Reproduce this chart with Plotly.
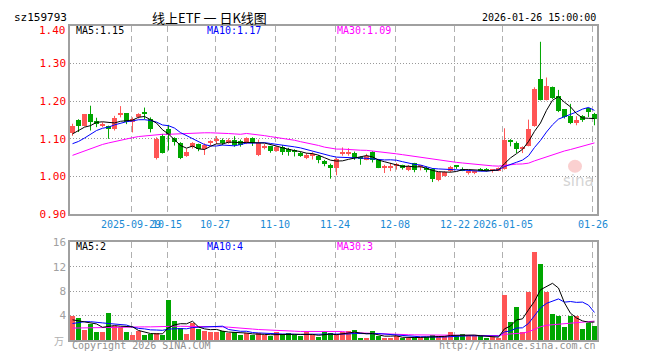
import plotly.graph_objects as go
import numpy as np

# ---------------- data ----------------
dates = [
    "2025-09-15", "2025-09-16", "2025-09-17", "2025-09-18", "2025-09-19", "2025-09-22", "2025-09-23",
    "2025-09-24", "2025-09-25", "2025-09-26", "2025-09-29", "2025-09-30",
    "2025-10-09", "2025-10-10", "2025-10-13", "2025-10-14", "2025-10-15", "2025-10-16", "2025-10-17",
    "2025-10-20", "2025-10-21", "2025-10-22", "2025-10-23", "2025-10-24", "2025-10-27", "2025-10-28",
    "2025-10-29", "2025-10-30", "2025-10-31",
    "2025-11-03", "2025-11-04", "2025-11-05", "2025-11-06", "2025-11-07", "2025-11-10", "2025-11-11",
    "2025-11-12", "2025-11-13", "2025-11-14", "2025-11-17", "2025-11-18", "2025-11-19", "2025-11-20",
    "2025-11-21", "2025-11-24", "2025-11-25", "2025-11-26", "2025-11-27", "2025-11-28",
    "2025-12-01", "2025-12-02", "2025-12-03", "2025-12-04", "2025-12-05", "2025-12-08", "2025-12-09",
    "2025-12-10", "2025-12-11", "2025-12-12", "2025-12-15", "2025-12-16", "2025-12-17", "2025-12-18",
    "2025-12-19", "2025-12-22", "2025-12-23", "2025-12-24", "2025-12-25", "2025-12-26", "2025-12-29",
    "2025-12-30", "2025-12-31",
    "2026-01-05", "2026-01-06", "2026-01-07", "2026-01-08", "2026-01-09", "2026-01-12", "2026-01-13",
    "2026-01-14", "2026-01-15", "2026-01-16", "2026-01-19", "2026-01-20", "2026-01-21", "2026-01-22",
    "2026-01-23", "2026-01-26",
]

open_ = [1.115, 1.151, 1.134, 1.167, 1.147, 1.133, 1.133, 1.126, 1.165, 1.168,
         1.144, 1.157, 1.168, 1.154, 1.048, 1.107, 1.126, 1.102, 1.090, 1.055,
         1.077, 1.086, 1.072, 1.089, 1.095, 1.098, 1.090, 1.096, 1.095, 1.088,
         1.103, 1.057, 1.077, 1.081, 1.068, 1.079, 1.073, 1.068, 1.063, 1.048,
         1.055, 1.055, 1.041, 1.031, 1.023, 1.060, 1.062, 1.062, 1.048, 1.044,
         1.065, 1.043, 1.024, 1.024, 1.027, 1.030, 1.018, 1.036, 1.026, 1.022,
         1.020, 0.990, 1.002, 1.014, 1.027, 1.020, 1.010, 1.010, 1.019, 1.018,
         1.015, 1.015, 1.020, 1.096, 1.090, 1.073, 1.081, 1.135, 1.259, 1.204,
         1.239, 1.215, 1.178, 1.160, 1.141, 1.160, 1.183, 1.165]
high = [1.140, 1.152, 1.166, 1.188, 1.156, 1.144, 1.135, 1.161, 1.187, 1.168,
        1.157, 1.168, 1.183, 1.157, 1.104, 1.113, 1.137, 1.104, 1.091, 1.074,
        1.091, 1.087, 1.088, 1.096, 1.107, 1.101, 1.101, 1.107, 1.098, 1.104,
        1.104, 1.098, 1.086, 1.081, 1.081, 1.083, 1.076, 1.072, 1.066, 1.062,
        1.064, 1.057, 1.044, 1.034, 1.049, 1.077, 1.075, 1.066, 1.053, 1.060,
        1.067, 1.046, 1.031, 1.036, 1.036, 1.031, 1.030, 1.036, 1.029, 1.026,
        1.022, 1.011, 1.014, 1.028, 1.030, 1.024, 1.014, 1.015, 1.022, 1.022,
        1.018, 1.024, 1.128, 1.099, 1.093, 1.080, 1.151, 1.237, 1.358, 1.263,
        1.239, 1.230, 1.178, 1.193, 1.160, 1.163, 1.183, 1.169]
low = [1.108, 1.118, 1.133, 1.122, 1.131, 1.131, 1.100, 1.122, 1.157, 1.139,
       1.117, 1.154, 1.152, 1.117, 1.045, 1.061, 1.069, 1.082, 1.046, 1.052,
       1.074, 1.067, 1.057, 1.082, 1.086, 1.083, 1.087, 1.079, 1.079, 1.086,
       1.081, 1.054, 1.072, 1.063, 1.066, 1.057, 1.055, 1.053, 1.052, 1.046,
       1.045, 1.035, 1.027, 0.994, 1.003, 1.055, 1.055, 1.044, 1.031, 1.043,
       1.037, 1.022, 1.009, 1.014, 1.018, 1.018, 1.014, 1.011, 1.016, 1.011,
       0.985, 0.987, 1.000, 1.011, 1.020, 1.014, 1.005, 1.006, 1.014, 1.013,
       1.010, 1.014, 1.018, 1.080, 1.062, 1.062, 1.080, 1.132, 1.202, 1.202,
       1.206, 1.171, 1.154, 1.139, 1.136, 1.145, 1.158, 1.136]
close = [1.133, 1.133, 1.165, 1.146, 1.142, 1.140, 1.128, 1.155, 1.168, 1.145,
         1.152, 1.166, 1.166, 1.125, 1.100, 1.063, 1.109, 1.091, 1.048, 1.065,
         1.090, 1.072, 1.083, 1.090, 1.098, 1.088, 1.096, 1.083, 1.083, 1.103,
         1.089, 1.088, 1.080, 1.068, 1.079, 1.065, 1.065, 1.066, 1.055, 1.058,
         1.059, 1.044, 1.033, 1.022, 1.046, 1.062, 1.064, 1.049, 1.047, 1.055,
         1.044, 1.023, 1.026, 1.026, 1.034, 1.023, 1.027, 1.016, 1.028, 1.016,
         0.992, 1.011, 1.012, 1.025, 1.025, 1.017, 1.012, 1.012, 1.016, 1.017,
         1.017, 1.022, 1.097, 1.093, 1.073, 1.075, 1.125, 1.233, 1.204, 1.241,
         1.209, 1.174, 1.158, 1.143, 1.151, 1.151, 1.170, 1.154]
volume = [3.95, 3.6, 1.65, 2.6, 1.35, 1.2, 4.4, 2.25, 2.1, 1.35,
          0.7, 1.4, 0.85, 1.0, 1.1, 0.7, 6.45, 3.1, 2.0, 1.0,
          2.8, 1.8, 1.5, 1.35, 1.2, 1.4, 1.05, 1.3, 0.85, 1.1,
          0.7, 1.1, 0.85, 0.55, 1.3, 1.0, 1.1, 0.7, 0.55, 1.5,
          0.7, 0.4, 1.2, 1.1, 0.95, 1.3, 1.45, 1.65, 0.35, 0.35,
          1.5, 0.6, 0.35, 0.35, 0.6, 0.35, 0.2, 0.5, 0.45, 0.5,
          0.85, 0.55, 0.6, 1.2, 0.65, 0.95, 0.65, 0.6, 0.6, 0.35,
          0.45, 0.35, 7.4, 2.9, 5.3, 1.35, 7.75, 14.3, 12.4, 7.75,
          4.2, 3.9, 2.15, 3.9, 3.9, 1.8, 2.8, 2.3]

# moving-average values for days whose window reaches before the first candle
ma5_head = [1.113, 1.122, 1.131, 1.135]
ma10_head = [1.087, 1.093, 1.102, 1.113, 1.122, 1.128, 1.131, 1.137, 1.142]
ma30_head = [1.056, 1.062, 1.068, 1.075, 1.080, 1.085, 1.089, 1.093, 1.097, 1.100,
             1.103, 1.106, 1.108, 1.110, 1.111, 1.112, 1.112, 1.113, 1.113, 1.114,
             1.114, 1.115, 1.116, 1.116, 1.116, 1.115, 1.114, 1.113, 1.112]
vma5_head = [3.3, 3.15, 3.0, 2.9]
vma10_head = [2.7, 2.85, 3.0, 3.0, 2.95, 2.8, 2.7, 2.65, 2.6]
vma30_head = [1.95, 1.97, 2.0, 2.02, 2.05, 2.08, 2.1, 2.12, 2.15, 2.2,
              2.2, 2.15, 2.15, 2.15, 2.2, 2.2, 2.25, 2.25, 2.25, 2.25,
              2.25, 2.25, 2.2, 2.2, 2.2, 2.15, 2.1, 2.05, 2.0]

tick_dates = ["2025-09-29", "2025-10-15", "2025-10-27", "2025-11-10", "2025-11-24",
              "2025-12-08", "2025-12-22", "2026-01-05", "2026-01-26"]
tick_text = ["2025-09-29", "10-15", "10-27", "11-10", "11-24", "12-08", "12-22", "2026-01-05", "01-26"]
price_ticks = [0.9, 1.0, 1.1, 1.2, 1.3, 1.4]
price_tick_text = ["0.90", "1.00", "1.10", "1.20", "1.30", "1.40"]
vol_ticks = [4, 8, 12, 16]
vol_tick_text = ["4", "8", "12", "16"]

title_code = "sz159793"
title_name = "线上ETF 一 日K线图"
timestamp = "2026-01-26 15:00:00"
price_ma_labels = ["MA5:1.15", "MA10:1.17", "MA30:1.09"]
vol_ma_labels = ["MA5:2", "MA10:4", "MA30:3"]
vol_unit = "万"
copyright_text = "Copyright 2026 SINA.COM"
url_text = "http://finance.sina.com.cn"

# ---------------- layout helpers (page pixel coordinates) ----------------
OFF = 8                      # default page body margin
W, H = 660 - OFF, 360 - OFF  # figure size
PL, PR, PT, PB = 70, 597, 21, 340   # plot area in page pixels
ML, MT = PL - OFF, PT - OFF
MR, MB = W - (PR - OFF), H - (PB - OFF)
PW, PH = PR - PL, PB - PT


def px(x):
    return (x - PL) / PW


def py(y):
    return (PB - y) / PH


def moving_avg(vals, n, head):
    out = list(head)
    for i in range(n - 1, len(vals)):
        out.append(float(np.mean(vals[i - n + 1:i + 1])))
    return out


RED = "#ff5555"
GREEN = "#00a600"
MONO = "DejaVu Sans Mono, monospace"
CJK = "Noto Sans CJK SC, sans-serif"

x = np.arange(len(dates))
o, h, l, c = map(np.array, (open_, high, low, close))
up = c >= o

fig = go.Figure()

# candle wicks
for mask, col in ((up, RED), (~up, GREEN)):
    wx, wy = [], []
    for i in np.where(mask)[0]:
        wx += [x[i], x[i], None]
        wy += [l[i], h[i], None]
    fig.add_trace(go.Scatter(x=wx, y=wy, mode="lines", line=dict(color=col, width=1),
                             hoverinfo="skip", showlegend=False, xaxis="x", yaxis="y"))

# candle bodies
min_body = 0.0028
for mask, col in ((up, RED), (~up, GREEN)):
    idx = np.where(mask)[0]
    base = np.minimum(o[idx], c[idx])
    hgt = np.maximum(np.abs(c[idx] - o[idx]), min_body)
    fig.add_trace(go.Bar(x=x[idx], y=hgt, base=base, width=0.83, marker=dict(color=col, line=dict(width=0)),
                         hoverinfo="skip", showlegend=False, xaxis="x", yaxis="y"))

# price moving averages
ma5 = moving_avg(close, 5, ma5_head)
ma10 = moving_avg(close, 10, ma10_head)
ma30 = moving_avg(close, 30, ma30_head)
for ser, col in ((ma30, "#ff00ff"), (ma10, "#0000ff"), (ma5, "#000000")):
    fig.add_trace(go.Scatter(x=x, y=ser, mode="lines", line=dict(color=col, width=1),
                             hoverinfo="skip", showlegend=False, xaxis="x", yaxis="y"))

# volume bars
v = np.array(volume)
for mask, col in ((up, RED), (~up, GREEN)):
    idx = np.where(mask)[0]
    fig.add_trace(go.Bar(x=x[idx], y=v[idx], width=0.83, marker=dict(color=col, line=dict(width=0)),
                         hoverinfo="skip", showlegend=False, xaxis="x2", yaxis="y2"))

vma5 = moving_avg(volume, 5, vma5_head)
vma10 = moving_avg(volume, 10, vma10_head)
vma30 = moving_avg(volume, 30, vma30_head)
for ser, col in ((vma30, "#ff00ff"), (vma10, "#0000ff"), (vma5, "#000000")):
    fig.add_trace(go.Scatter(x=x, y=ser, mode="lines", line=dict(color=col, width=1),
                             hoverinfo="skip", showlegend=False, xaxis="x2", yaxis="y2"))

tickvals = [dates.index(d) - 0.25 for d in tick_dates]
xr = [-0.42, len(dates) - 0.58]
GRID = "#b0b0b0"
BORDER = "#a0a0a0"

common_x = dict(range=xr, tickvals=tickvals, showgrid=True, griddash="6px,4px", gridcolor=GRID,
                gridwidth=1, showline=True, mirror=True, linecolor=BORDER, linewidth=1.5,
                zeroline=False, ticks="", fixedrange=True)

annotations = []


def add_text(t, xpx, ypx, color, size, anchor="left", family=MONO):
    annotations.append(dict(text=t, x=px(xpx), y=py(ypx), xref="paper", yref="paper",
                            xanchor=anchor, yanchor="middle", showarrow=False,
                            font=dict(family=family, size=size, color=color)))


add_text(title_code, 12, 12, "#000000", 11)
add_text(title_name, 150, 12, "#000000", 13, family=CJK)
add_text(timestamp, 598, 12, "#000000", 10, anchor="right")
for t, xp, col in zip(price_ma_labels, (74, 205, 335), ("#000000", "#0000ff", "#ff00ff")):
    add_text(t, xp, 26, col, 10)
for t, xp, col in zip(vol_ma_labels, (74, 205, 335), ("#000000", "#0000ff", "#ff00ff")):
    add_text(t, xp, 245, col, 10)
# the top price label sits a few pixels below its gridline (inside the frame height)
add_text(price_tick_text[-1], 68, 26, "#ff0000", 11, anchor="right")
add_text(vol_unit, 66, 341, "#b0b0b0", 10, anchor="right", family=CJK)
add_text(copyright_text, 70, 346, "#909090", 10)
add_text(url_text, 598, 346, "#909090", 10, anchor="right")
add_text("sina", 596, 178, "#d4d4d4", 15, anchor="right", family="DejaVu Sans, sans-serif")

fig.update_layout(
    width=W, height=H,
    margin=dict(l=ML, r=MR, t=MT, b=MB),
    paper_bgcolor="white", plot_bgcolor="white",
    barmode="overlay", bargap=0,
    showlegend=False,
    xaxis=dict(anchor="y", ticktext=tick_text, showticklabels=True, tickangle=0,
               tickfont=dict(family=MONO, size=10, color="#1a8ad4"), **common_x),
    xaxis2=dict(anchor="y2", matches="x", showticklabels=False, **common_x),
    yaxis=dict(domain=[py(212), 1], range=[0.9, 1.4], tickvals=price_ticks[:-1], ticktext=price_tick_text[:-1],
               tickfont=dict(family=MONO, size=11, color="#ff0000"), showgrid=True, griddash="1px,2px",
               gridcolor="#999999", showline=True, mirror=True, linecolor=BORDER, linewidth=1.5,
               zeroline=False, ticks="", fixedrange=True),
    yaxis2=dict(domain=[0, py(240.7)], range=[0, 16], tickvals=vol_ticks, ticktext=vol_tick_text,
                tickfont=dict(family=MONO, size=11, color="#a0a0a0"), showgrid=True, griddash="1px,2px",
                gridcolor="#999999", showline=True, mirror=True, linecolor=BORDER, linewidth=1.5,
                zeroline=False, ticks="", fixedrange=True),
    annotations=annotations,
    shapes=[dict(type="circle", xref="paper", yref="paper", x0=px(568), x1=px(582), y0=py(170), y1=py(157),
                 line=dict(width=0), fillcolor="rgba(240,120,120,0.35)")],
)

fig.write_html("out.html")
